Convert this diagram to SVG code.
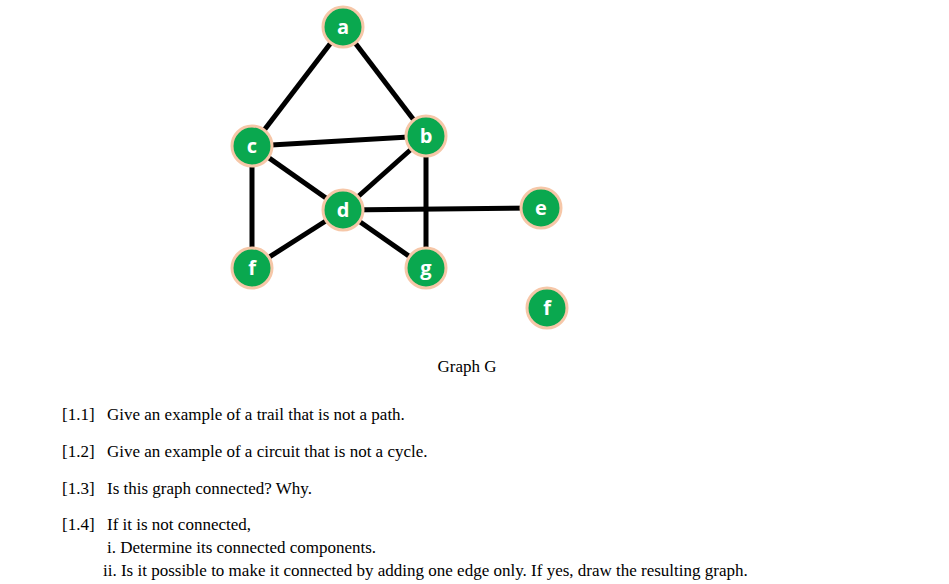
<svg xmlns="http://www.w3.org/2000/svg" width="949" height="584" viewBox="0 0 949 584">
<style>
.n circle{fill:#0aa84f;stroke:#f6c7a8;stroke-width:3}
.n text{fill:#fff;font-family:"Open Sans",sans-serif;font-weight:bold;font-size:20px;text-anchor:middle}
#edges line{stroke:#000;stroke-width:5}
.t{font-family:"Liberation Serif",serif;font-size:17px;fill:#000}
</style>
<rect width="949" height="584" fill="#fff"/>
<g id="edges">
<line x1="343" y1="27" x2="252" y2="146"/>
<line x1="343" y1="27" x2="426" y2="136"/>
<line x1="252" y1="146" x2="426" y2="136"/>
<line x1="252" y1="146" x2="343" y2="210"/>
<line x1="252" y1="146" x2="252" y2="268"/>
<line x1="426" y1="136" x2="343" y2="210"/>
<line x1="426" y1="136" x2="426" y2="268"/>
<line x1="343" y1="210" x2="541" y2="208"/>
<line x1="343" y1="210" x2="252" y2="268"/>
<line x1="343" y1="210" x2="426" y2="268"/>
</g>
<g id="a" class="n"><circle cx="343" cy="27" r="20"/><text x="343" y="34">a</text></g>
<g id="b" class="n"><circle cx="426" cy="136" r="20"/><text x="426" y="143">b</text></g>
<g id="c" class="n"><circle cx="252" cy="146" r="20"/><text x="252" y="153">c</text></g>
<g id="d" class="n"><circle cx="343" cy="210" r="20"/><text x="343" y="217">d</text></g>
<g id="e" class="n"><circle cx="541" cy="208" r="20"/><text x="541" y="215">e</text></g>
<g id="f" class="n"><circle cx="252" cy="268" r="20"/><text x="252" y="275">f</text></g>
<g id="g" class="n"><circle cx="426" cy="268" r="20"/><text x="426" y="275">g</text></g>
<g id="f2" class="n"><circle cx="547" cy="308" r="20"/><text x="547" y="315">f</text></g>
<text class="t" x="467" y="372" text-anchor="middle">Graph G</text>
<text class="t" x="62" y="420">[1.1]</text><text class="t" x="107" y="420">Give an example of a trail that is not a path.</text>
<text class="t" x="62" y="457">[1.2]</text><text class="t" x="107" y="457">Give an example of a circuit that is not a cycle.</text>
<text class="t" x="62" y="494">[1.3]</text><text class="t" x="107" y="494">Is this graph connected? Why.</text>
<text class="t" x="62" y="530">[1.4]</text><text class="t" x="107" y="530">If it is not connected,</text>
<text class="t" x="107" y="553">i. Determine its connected components.</text>
<text class="t" x="103" y="576">ii. Is it possible to make it connected by adding one edge only. If yes, draw the resulting graph.</text>
</svg>
